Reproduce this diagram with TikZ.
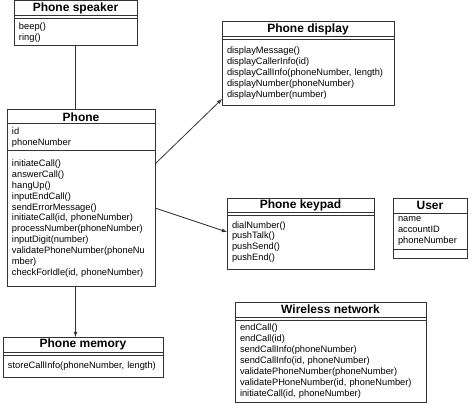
\documentclass[tikz,border=0pt]{standalone}
\usepackage{fontspec}
\setmainfont{Liberation Sans}
\usetikzlibrary{positioning, arrows.meta}
\definecolor{umlgray}{HTML}{333333}
\tikzset{>=latex}
\tikzset{
  classname/.style={draw=umlgray, line width=1pt, outer sep=0pt, inner sep=0pt,
    minimum width=#1, minimum height=15pt, font=\fontsize{12}{12}\selectfont\bfseries},
  classpart/.style={draw=umlgray, line width=1pt, outer sep=0pt, inner xsep=5pt,
    inner ysep=1pt, text width=#1, align=left, font=\fontsize{9.3}{10.9}\selectfont},
  assoc/.style={draw=umlgray, line width=0.8pt}
}

\begin{document}
\begin{tikzpicture}[x=1pt, y=-1pt]
\useasboundingbox (0,0) rectangle (474,409);
% Phone speaker
\node[classname=123pt, anchor=north west] (speaker) at (14,1) {Phone speaker};
\node[classpart=113pt, minimum height=3pt, below=0pt of speaker] (speakerattr) {};
\node[classpart=113pt, minimum height=27pt, below=0pt of speakerattr] (speakerops) {beep()\\ring()};
% Phone
\node[classname=148pt, anchor=north west, minimum height=14pt] (phone) at (7,110) {Phone};
\node[classpart=138pt, minimum height=27pt, below=0pt of phone] (phoneattr) {id\\phoneNumber};
\node[classpart=138pt, minimum height=135pt, below=0pt of phoneattr] (phoneops) {initiateCall()\\answerCall()\\hangUp()\\inputEndCall()\\sendErrorMessage()\\initiateCall(id, phoneNumber)\\processNumber(phoneNumber)\\inputDigit(number)\\validatePhoneNumber(phoneNu\\mber)\\checkForIdle(id, phoneNumber)};
% Phone memory
\node[classname=160pt, anchor=north west] (memory) at (3,337) {Phone memory};
\node[classpart=150pt, minimum height=3pt, below=0pt of memory] (memoryattr) {};
\node[classpart=150pt, minimum height=22pt, below=0pt of memoryattr] (memoryops) {storeCallInfo(phoneNumber, length)};
% Phone display
\node[classname=172pt, anchor=north west] (display) at (222,22) {Phone display};
\node[classpart=162pt, minimum height=3pt, below=0pt of display] (displayattr) {};
\node[classpart=162pt, minimum height=66pt, below=0pt of displayattr] (displayops) {displayMessage()\\displayCallerInfo(id)\\displayCallInfo(phoneNumber, length)\\displayNumber(phoneNumber)\\displayNumber(number)};
% Phone keypad
\node[classname=147pt, anchor=north west, minimum height=14pt] (keypad) at (227,198) {Phone keypad};
\node[classpart=137pt, minimum height=3pt, below=0pt of keypad] (keypadattr) {};
\node[classpart=137pt, minimum height=54pt, below=0pt of keypadattr] (keypadops) {dialNumber()\\pushTalk()\\pushSend()\\pushEnd()};
% User
\node[classname=74pt, anchor=north west] (user) at (393,198) {User};
\node[classpart=64pt, minimum height=36pt, below=0pt of user] (userattr) {name\\accountID\\phoneNumber};
\node[classpart=64pt, minimum height=9pt, below=0pt of userattr] (userops) {};
% Wireless network
\node[classname=191pt, anchor=north west] (network) at (235,302) {Wireless network};
\node[classpart=181pt, minimum height=3pt, below=0pt of network] (networkattr) {};
\node[classpart=181pt, minimum height=82pt, below=0pt of networkattr] (networkops) {endCall()\\endCall(id)\\sendCallInfo(phoneNumber)\\sendCallInfo(id, phoneNumber)\\validatePhoneNumber(phoneNumber)\\validatePHoneNumber(id, phoneNumber)\\initiateCall(id, phoneNumber)};
% connectors
\draw[assoc] (speakerops.south) -- (speakerops.south |- phone.north);
\draw[assoc, ->] (speakerops.south |- phoneops.south) -- (speakerops.south |- memory.north);
\draw[assoc, ->] ([yshift=-54pt]phone.north east) -- ([yshift=7pt]displayops.south west);
\draw[assoc, ->] ([yshift=-98pt]phone.north east) -- ([yshift=-34pt]keypad.north west);
\end{tikzpicture}
\end{document}
